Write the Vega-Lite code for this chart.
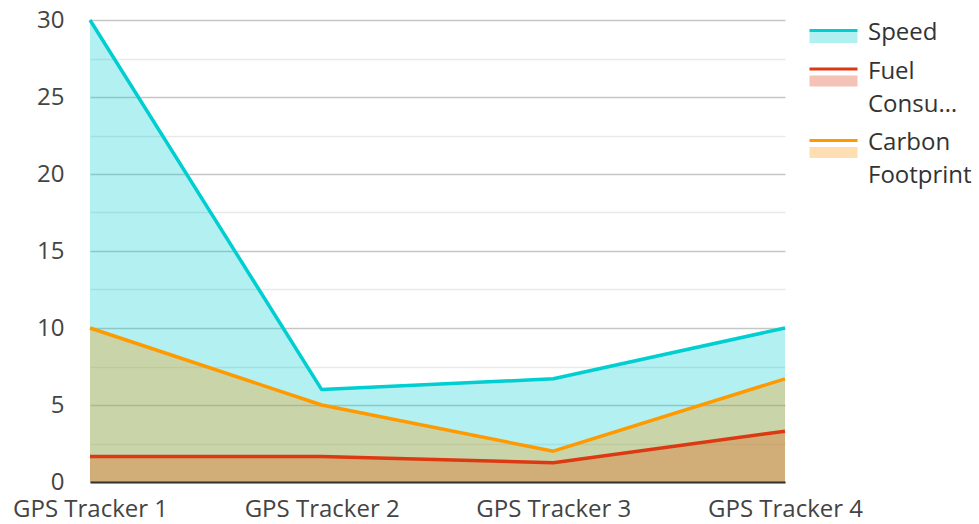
{
  "$schema": "https://vega.github.io/schema/vega-lite/v6.json",
  "width": 695,
  "height": 462,
  "autosize": {"type": "none"},
  "padding": {"left": 90, "top": 20, "right": 194, "bottom": 42},
  "background": "white",
  "config": {"view": {"stroke": null}, "font": "Open Sans"},
  "data": {
    "values": [
      {"tracker": "GPS Tracker 1", "Speed": 30, "Fuel Consumption": 1.65, "Carbon Footprint": 10},
      {"tracker": "GPS Tracker 2", "Speed": 6, "Fuel Consumption": 1.65, "Carbon Footprint": 5},
      {"tracker": "GPS Tracker 3", "Speed": 6.7, "Fuel Consumption": 1.25, "Carbon Footprint": 2},
      {"tracker": "GPS Tracker 4", "Speed": 10, "Fuel Consumption": 3.3, "Carbon Footprint": 6.7}
    ]
  },
  "encoding": {
    "x": {
      "field": "tracker",
      "type": "ordinal",
      "scale": {"type": "point", "padding": 0},
      "axis": {
        "title": null,
        "labelAngle": 0,
        "ticks": false,
        "domainColor": "#333333",
        "domainWidth": 2,
        "labelPadding": 15,
        "labelFontSize": 24,
        "labelFont": "Open Sans",
        "labelColor": "#444444",
        "grid": false,
        "zindex": 1
      }
    },
    "y": {
      "field": "value",
      "type": "quantitative",
      "stack": null,
      "scale": {"domain": [0, 30], "nice": false},
      "axis": {
        "title": null,
        "values": [0, 2.5, 5, 7.5, 10, 12.5, 15, 17.5, 20, 22.5, 25, 27.5, 30],
        "labelExpr": "datum.value % 5 === 0 ? datum.label : ''",
        "labelOverlap": false,
        "domain": false,
        "ticks": false,
        "labelPadding": 26,
        "labelFontSize": 24,
        "labelFont": "Open Sans",
        "labelColor": "#444444",
        "gridWidth": 1.5,
        "gridColor": {"condition": {"test": "datum.value % 5 === 0", "value": "#c6c6c6"}, "value": "#e9e9e9"}
      }
    }
  },
  "layer": [
    {
      "transform": [{"fold": ["Speed", "Fuel Consumption", "Carbon Footprint"], "as": ["seriesF", "value"]}],
      "mark": {"type": "area", "opacity": 0.3},
      "encoding": {
        "fill": {
          "field": "seriesF",
          "type": "nominal",
          "sort": ["Speed", "Fuel Consumption", "Carbon Footprint"],
          "scale": {"range": ["#00CED1", "#DC3912", "#FF9900"]},
          "legend": {
            "title": null,
            "orient": "none",
            "legendX": 731.5,
            "legendY": -11,
            "padding": 0,
            "symbolType": "M-4,1.83H4V3.67H-4Z",
            "symbolSize": 144,
            "symbolOpacity": 0.3,
            "symbolStrokeWidth": 3,
            "symbolStrokeColor": "transparent",
            "labelFontSize": 24,
            "labelFont": "Open Sans",
            "labelColor": "transparent",
            "labelLimit": 108,
            "labelExpr": "length(split(datum.label, ' ')) > 1 ? [' ', ' '] : ' '",
            "labelBaseline": "top",
            "labelOffset": 22.5,
            "rowPadding": 2.5,
            "encode": {"labels": {"update": {"lineHeight": {"value": 33}}}}
          }
        }
      }
    },
    {
      "transform": [{"fold": ["Speed", "Fuel Consumption", "Carbon Footprint"], "as": ["series", "value"]}],
      "mark": {"type": "line", "strokeWidth": 3.5, "strokeJoin": "round"},
      "encoding": {
        "stroke": {
          "field": "series",
          "type": "nominal",
          "sort": ["Speed", "Fuel Consumption", "Carbon Footprint"],
          "scale": {"range": ["#00CED1", "#DC3912", "#FF9900"]},
          "legend": {
            "title": null,
            "orient": "none",
            "legendX": 731.5,
            "legendY": -11,
            "padding": 0,
            "symbolType": "M-4,1.58H4",
            "symbolSize": 144,
            "symbolStrokeWidth": 3,
            "symbolFillColor": "transparent",
            "labelFontSize": 24,
            "labelFont": "Open Sans",
            "labelColor": "#333333",
            "labelLimit": 108,
            "labelExpr": "split(datum.label, ' ')",
            "labelBaseline": "top",
            "labelOffset": 22.5,
            "rowPadding": 2.5,
            "encode": {"labels": {"update": {"lineHeight": {"value": 33}}}}
          }
        }
      }
    }
  ]
}
